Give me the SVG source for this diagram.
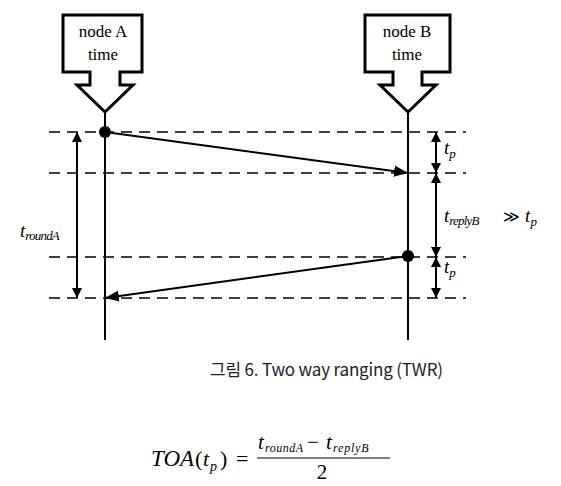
<svg xmlns="http://www.w3.org/2000/svg" width="561" height="486" viewBox="0 0 561 486">
<style>
.box{fill:#fff;stroke:#000;stroke-width:3;stroke-linejoin:miter}
.nt{font-family:"Liberation Serif","Times New Roman","DejaVu Serif",serif;font-size:17px;text-anchor:middle;fill:#000}
.dash{stroke:#000;stroke-width:1.5;stroke-dasharray:11,7;fill:none}
.line{stroke:#000;stroke-width:2;fill:none}
.mi{font-family:"Liberation Serif","Times New Roman","DejaVu Serif",serif;font-style:italic;fill:#000}
.rm{font-family:"Liberation Serif","Times New Roman","DejaVu Serif",serif;fill:#000}
.cap{font-family:"Noto Sans CJK KR","DejaVu Sans",sans-serif;font-size:17px;fill:#222}
</style>
<defs>
<marker id="ah" viewBox="0 0 10 10" refX="10" refY="5" markerWidth="10" markerHeight="10" markerUnits="userSpaceOnUse" orient="auto-start-reverse">
<path d="M0,0 L10,5 L0,10 z" fill="#000"/>
</marker>
<marker id="big" viewBox="0 0 10 10" refX="10" refY="5" markerWidth="14" markerHeight="14" markerUnits="userSpaceOnUse" orient="auto">
<path d="M0,1 L10,5 L0,9 z" fill="#000"/>
</marker>
</defs>
<g id="nodeA">
<path class="box" d="M63,15 H142 V72 H120 V85 H133 L105,112 L77,85 H90 V72 H63 Z"/>
<text class="nt" x="103" y="37">node A</text>
<text class="nt" x="103" y="60">time</text>
</g>
<g id="nodeB">
<path class="box" d="M365,15 H450 V72 H422 V85 H436 L408,112 L380,85 H393 V72 H365 Z"/>
<text class="nt" x="407" y="37">node B</text>
<text class="nt" x="407" y="60">time</text>
</g>
<g id="connectors">
<line class="dash" x1="49" y1="132" x2="466" y2="132"/>
<line class="dash" x1="49" y1="173" x2="466" y2="173"/>
<line class="dash" x1="49" y1="257" x2="466" y2="257"/>
<line class="dash" x1="49" y1="298" x2="466" y2="298"/>
<line class="line" x1="105" y1="112" x2="105" y2="340"/>
<line class="line" x1="408" y1="112" x2="408" y2="340"/>
<circle cx="105" cy="132" r="6" fill="#000"/>
<circle cx="408" cy="256" r="6" fill="#000"/>
<line class="line" x1="105" y1="132" x2="408" y2="173" marker-end="url(#big)"/>
<line class="line" x1="408" y1="256" x2="105" y2="298" marker-end="url(#big)"/>
<line class="line" x1="77" y1="132" x2="77" y2="298" marker-start="url(#ah)" marker-end="url(#ah)"/>
<line class="line" x1="436" y1="132" x2="436" y2="173" marker-start="url(#ah)" marker-end="url(#ah)"/>
<line class="line" x1="436" y1="173" x2="436" y2="257" marker-start="url(#ah)" marker-end="url(#ah)"/>
<line class="line" x1="436" y1="257" x2="436" y2="298" marker-start="url(#ah)" marker-end="url(#ah)"/>
</g>
<g id="labels">
<text class="mi" x="20" y="237" font-size="19">t<tspan font-size="13" dy="3" letter-spacing="-0.8">roundA</tspan></text>
<text class="mi" x="444" y="154" font-size="19">t<tspan font-size="13" dy="4">p</tspan></text>
<text class="mi" x="444" y="222" font-size="19">t<tspan font-size="13" dy="3" letter-spacing="-0.8">replyB</tspan></text>
<text x="503" y="222" font-family="DejaVu Serif,serif" font-size="16">≫ <tspan class="mi" font-size="19">t</tspan><tspan class="mi" font-size="13" dy="4">p</tspan></text>
<text class="mi" x="444" y="273" font-size="19">t<tspan font-size="13" dy="4">p</tspan></text>
</g>
<text class="cap" x="210" y="376" textLength="233" lengthAdjust="spacing">그림 6. Two way ranging (TWR)</text>
<g id="formula">
<text class="mi" x="151" y="466" font-size="23">TOA</text>
<text class="rm" x="195" y="466" font-size="22">(</text>
<text class="mi" x="203" y="466" font-size="22">t</text>
<text class="mi" x="210" y="471" font-size="14">p</text>
<text class="rm" x="220" y="466" font-size="22">)</text>
<text class="rm" x="236" y="466" font-size="22">=</text>
<text class="mi" x="258" y="449" font-size="21">t</text>
<text class="mi" x="265" y="452" font-size="12" letter-spacing="0.5">roundA</text>
<text class="rm" x="307" y="449" font-size="21">−</text>
<text class="mi" x="326" y="449" font-size="21">t</text>
<text class="mi" x="333" y="452" font-size="12" letter-spacing="0.8">replyB</text>
<line x1="257" y1="458" x2="390" y2="458" stroke="#000" stroke-width="1"/>
<text class="rm" x="322" y="479" font-size="21" text-anchor="middle">2</text>
</g>
</svg>
